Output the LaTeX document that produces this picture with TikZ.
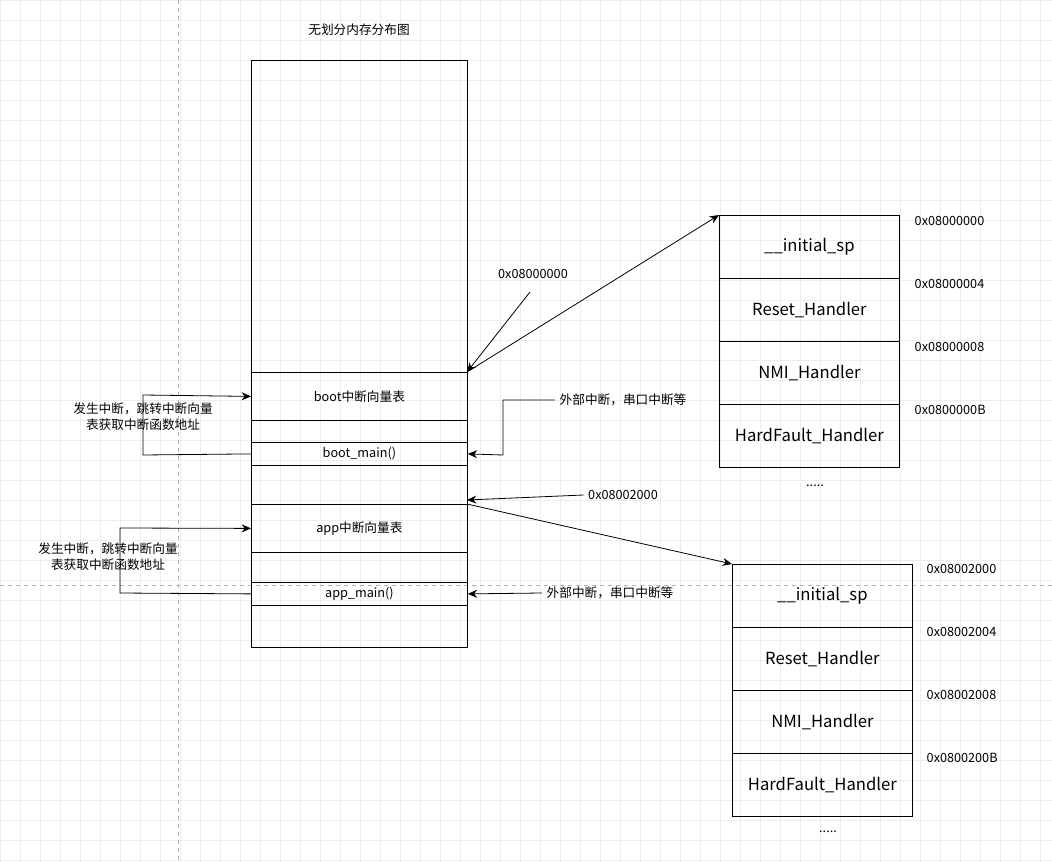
\documentclass[tikz,border=0pt]{standalone}
\usepackage{fontspec}
\setmainfont{Noto Sans CJK SC}
\usetikzlibrary{arrows.meta}
\begin{document}
\begin{tikzpicture}[x=0.75pt,y=-0.75pt,
  box/.style={draw,line width=0.6pt},
  sm/.style={font=\fontsize{9.5}{12}\selectfont,align=center},
  big/.style={font=\fontsize{12.5}{15}\selectfont},
  arr/.style={-{Stealth[length=7pt,width=6pt]},line width=0.6pt}]
\useasboundingbox (0,0) rectangle (1052,862);
% grid
\foreach \x in {0,20,...,1052} \draw[black!7] (\x,0) -- (\x,862);
\foreach \y in {0,20,...,862} \draw[black!7] (0,\y) -- (1052,\y);
\draw[black!30,dashed] (178,0) -- (178,862);
\draw[black!30,dashed] (0,585) -- (1052,585);
\node[sm] (title) at (359,30) {无划分内存分布图};
% memory column
\draw[box] (251,60) rectangle (467,372);
\node[box,minimum width=216*0.75pt,minimum height=48*0.75pt,anchor=north west,sm] (bvt) at (251,372) {boot中断向量表};
\draw[box] (251,420) rectangle (467,442);
\node[box,minimum width=216*0.75pt,minimum height=23*0.75pt,anchor=north west,sm] (bmain) at (251,442) {boot\_main()};
\draw[box] (251,465) rectangle (467,504);
\node[box,minimum width=216*0.75pt,minimum height=48*0.75pt,anchor=north west,sm] (avt) at (251,504) {app中断向量表};
\draw[box] (251,552) rectangle (467,582);
\node[box,minimum width=216*0.75pt,minimum height=23*0.75pt,anchor=north west,sm] (amain) at (251,582) {app\_main()};
\draw[box] (251,605) rectangle (467,647);
\coordinate (btop) at (467,372);
\coordinate (atop) at (467,504);
% tables
\foreach \n/\x/\y in {t/719/215, u/732/564}{
  \foreach \t [count=\i from 0] in {\_\_initial\_sp,Reset\_Handler,NMI\_Handler,HardFault\_Handler}
    \node[box,big,minimum width=180*0.75pt,minimum height=63*0.75pt,anchor=north west] (\n\i) at (\x,\y+\i*63) {\t};
}
\foreach \t [count=\i from 0] in {0x08000000,0x08000004,0x08000008,0x0800000B}
  \node[sm,anchor=west] (ta\i) at (910,221+\i*63) {\t};
\foreach \t [count=\i from 0] in {0x08002000,0x08002004,0x08002008,0x0800200B}
  \node[sm,anchor=west] (ua\i) at (922,569+\i*63) {\t};
\node[sm] (td) at (815,486) {.....};
\node[sm] (ud) at (828,832) {.....};
% arrows
\draw[arr] (btop) -- (t0.north west);
\draw[arr] (atop) -- (u0.north west);
\node[sm] (l1) at (533,274) {0x08000000};
\draw[arr] (530,292) -- (btop);
\node[sm] (l2) at (623,495) {0x08002000};
\draw[arr] (l2.west) -- (467,500);
\node[sm] (e1) at (623,400) {外部中断，串口中断等};
\draw[arr] (e1.west) -- (503,400) -- (503,455) -- (bmain.east);
\node[sm] (e2) at (610,593) {外部中断，串口中断等};
\draw[arr] (e2.west) -- (amain.east);
\node[sm] (c1) at (143,417) {发生中断，跳转中断向量\\表获取中断函数地址};
\draw[arr] (bmain.west) -- (143,455) -- (143,395) -- (bvt.west);
\node[sm] (c2) at (108,557) {发生中断，跳转中断向量\\表获取中断函数地址};
\draw[arr] (amain.west) -- (120,593) -- (120,528) -- (avt.west);
\end{tikzpicture}
\end{document}
